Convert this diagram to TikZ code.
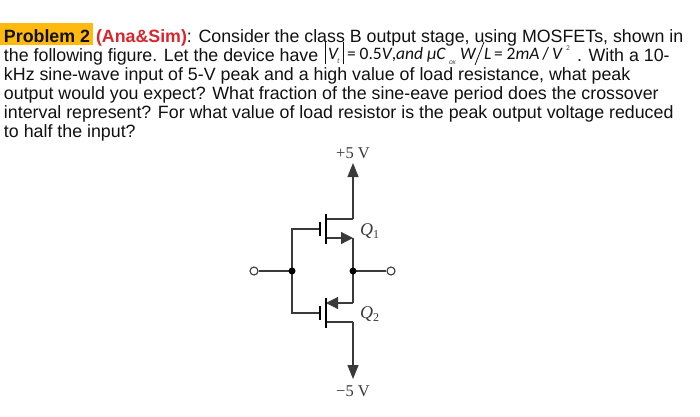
\documentclass[tikz,border=0pt]{standalone}
\usepackage{fontspec}
\setmainfont{Liberation Sans}
\newfontfamily\mathlike{Carlito}
\newfontfamily\circfont{Liberation Serif}
\usetikzlibrary{arrows.meta}
\definecolor{hilite}{HTML}{FFB90F}
\definecolor{probred}{HTML}{D8262C}
\definecolor{wirecol}{HTML}{3A3A3A}
\definecolor{inkcol}{HTML}{111111}
\tikzset{
  x=1pt,y=-1pt,
  txt/.style={anchor=base west,inner sep=0pt,outer sep=0pt,text=inkcol,font=\fontsize{17.8}{20}\selectfont},
  frm/.style={anchor=base west,inner sep=0pt,outer sep=0pt,text=inkcol,font=\mathlike\itshape\fontsize{17.5}{20}\selectfont},
  tinytxt/.style={anchor=base west,inner sep=0pt,outer sep=0pt,text=inkcol!75,font=\mathlike\itshape\fontsize{7.5}{8}\selectfont},
  circ/.style={inner sep=0pt,outer sep=0pt,text=wirecol,font=\circfont\fontsize{16.5}{19}\selectfont},
  qlab/.style={anchor=base west,inner sep=0pt,outer sep=0pt,text=wirecol,font=\circfont\itshape\fontsize{18}{20}\selectfont},
  wire/.style={draw=wirecol,line width=1.2pt},
  plate/.style={draw=black,line width=2.4pt},
  arrowed/.style={wire,-{Triangle[length=14pt,width=11pt]},shorten >=0pt},
  srcarrow/.style={wire,-{Triangle[length=12pt,width=12pt]}},
  pt/.style={inner sep=0pt,outer sep=0pt,minimum size=0pt},
  port/.style={circle,draw=wirecol,fill=white,line width=1.1pt,inner sep=0pt,minimum size=8pt}
}
\begin{document}
\begin{tikzpicture}
\useasboundingbox (0,0) rectangle (700,416);
\fill[white] (0,0) rectangle (700,416);
\fill[hilite] (0,23) rectangle (93,45);
% text
\node[txt] at (4,42) {\textbf{Problem 2}};
\node[txt] at (96,42) {\textcolor{probred}{\textbf{(Ana\&Sim)}}: Consider the class B output stage, using MOSFETs, shown in};
\node[txt] at (4,61) {the following figure. Let the device have};
\node[txt] at (577,61) {. With a 10-};
\node[txt] at (4,80) {kHz sine-wave input of 5-V peak and a high value of load resistance, what peak};
\node[txt] at (4,99) {output would you expect? What fraction of the sine-eave period does the crossover};
\node[txt] at (4,118) {interval represent? For what value of load resistor is the peak output voltage reduced};
\node[txt] at (4,137) {to half the input?};
% formula
\draw[inkcol,line width=0.8pt] (325,42) -- (325,64) (343,42) -- (343,64);
\draw[inkcol,line width=0.8pt] (475,65) -- (484,42);
\node[frm] at (328,59) {V};
\node[tinytxt] at (337,63) {t};
\node[frm] at (347,59) {\upshape = 0.5\itshape V\upshape ,\itshape and};
\node[frm] at (427,59) {μC};
\node[tinytxt] at (449,64) {ox};
\node[frm] at (460,59) {W};
\node[frm] at (484,59) {L};
\node[frm] at (494,59) {\upshape = 2\itshape mA\upshape\,/\,\itshape V};
\node[tinytxt] at (566,50) {\upshape 2};
% circuit terminals
\node[circ] (vp) at (353,153) {+5 V};
\node[circ] (vm) at (353,391) {−5 V};
\node[qlab] (q1) at (360,235) {Q\raisebox{-3pt}{\upshape\fontsize{12}{13}\selectfont 1}};
\node[qlab] (q2) at (360,318) {Q\raisebox{-3pt}{\upshape\fontsize{12}{13}\selectfont 2}};
\node[port] (in) at (254,271) {};
\node[port] (out) at (391,271) {};
\node[pt] (nin) at (292,271) {};
\node[pt] (nout) at (353,271) {};
% Q1 points
\node[pt] (g1) at (320,229) {};
\node[pt] (d1) at (326,219) {};
\node[pt] (s1) at (326,238) {};
\node[pt] (c1) at (353,219) {};
\node[pt] (e1) at (353,238) {};
\node[pt] (t1) at (353,163) {};
% Q2 points
\node[pt] (g2) at (320,313) {};
\node[pt] (s2) at (326,303) {};
\node[pt] (d2) at (326,322) {};
\node[pt] (e2) at (353,303) {};
\node[pt] (c2) at (353,322) {};
\node[pt] (t2) at (353,379) {};
% wires
\draw[wire] (in) -- (nin);
\draw[wire] (nout) -- (out);
\draw[wire] (nin) |- (g1);
\draw[wire] (nin) |- (g2);
\draw[wire] (d1) -- (c1);
\draw[arrowed] (c1) -- (t1);
\draw[wire] (e1) -- (nout);
\draw[wire] (nout) -- (e2);
\draw[wire] (d2) -- (c2);
\draw[arrowed] (c2) -- (t2);
\draw[srcarrow] (s1) -- (e1);
\draw[srcarrow] (e2) -- (s2);
% plates
\draw[plate] (326,214) -- (326,244);
\draw[plate] (320,222) -- (320,236);
\draw[plate] (326,298) -- (326,328);
\draw[plate] (320,306) -- (320,320);
\fill[black] (nin) circle (3.5pt);
\fill[black] (nout) circle (3.5pt);
\end{tikzpicture}
\end{document}
